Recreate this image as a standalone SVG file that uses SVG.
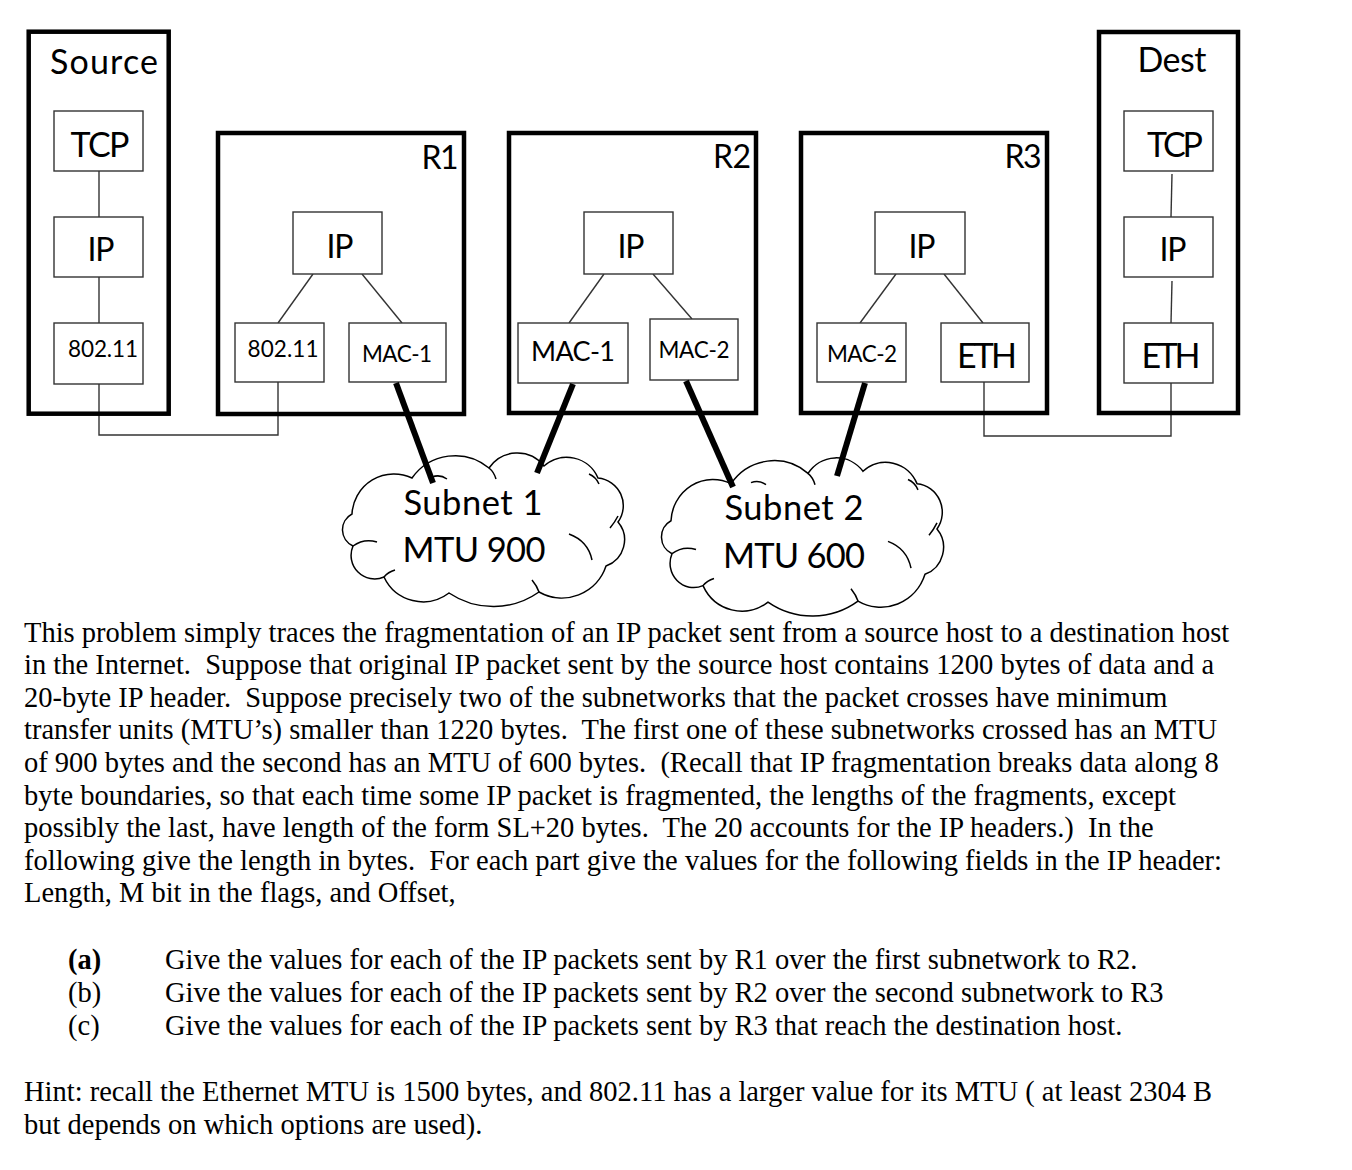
<svg xmlns="http://www.w3.org/2000/svg" width="1352" height="1170" viewBox="0 0 1352 1170">
<style>
.big{fill:none;stroke:#000;stroke-width:4.5}
.box{fill:#fff;stroke:#333;stroke-width:1.4}
.thin{fill:none;stroke:#333;stroke-width:1.4}
.thick{fill:none;stroke:#000;stroke-width:6}
.cloud{fill:#fff;stroke:#000;stroke-width:1.5;vector-effect:non-scaling-stroke}
.cin{fill:none;stroke:#000;stroke-width:1.5;vector-effect:non-scaling-stroke}
.lbl{font-family:Lato,"Liberation Sans",sans-serif;fill:#000;text-anchor:middle}
.p{font-family:"Liberation Serif","Times New Roman",serif;font-size:28.5px;fill:#000;white-space:pre}
</style>
<defs>
<g id="cloudShape">
<path class="cloud" d="M 9,90 A 17.8 17.8 0 0 1 8,58 A 42 42 0 0 1 68,22 A 52.8 52.8 0 0 1 145,12 A 34 34 0 0 1 200,10 A 34 34 0 0 1 254,22 A 27.8 27.8 0 0 1 274,66 A 27.7 27.7 0 0 1 262,110 A 46.5 46.5 0 0 1 195,136 A 79.3 79.3 0 0 1 105,137 A 43 43 0 0 1 40,121 A 23.6 23.6 0 0 1 9,90 Z"/>
<path class="cin" d="M 9,90 Q 20,82 33,86"/>
<path class="cin" d="M 88,21 Q 96,18 103,23"/>
<path class="cin" d="M 145,12 Q 150,16 152,23"/>
<path class="cin" d="M 245,18 Q 252,21 255,28"/>
<path class="cin" d="M 266,72 Q 271,66 274,60"/>
<path class="cin" d="M 225,78 Q 244,85 248,104"/>
<path class="cin" d="M 40,121 Q 44,116 51,114"/>
<path class="cin" d="M 188,124 Q 193,130 195,136"/>
</g>
</defs>
<rect width="1352" height="1170" fill="#fff"/>

<g id="connectors">
<line class="thin" x1="99" y1="171" x2="99" y2="217"/>
<line class="thin" x1="99" y1="277" x2="99" y2="323"/>
<polyline class="thin" points="99,384 99,435 278,435 278,382"/>
<line class="thin" x1="313" y1="274" x2="278" y2="323"/>
<line class="thin" x1="362" y1="274" x2="402" y2="323"/>
<line class="thin" x1="604" y1="274" x2="569" y2="323"/>
<line class="thin" x1="653" y1="274" x2="692" y2="319"/>
<line class="thin" x1="896" y1="274" x2="860" y2="323"/>
<line class="thin" x1="944" y1="274" x2="983" y2="323"/>
<line class="thin" x1="1172" y1="174" x2="1171" y2="217"/>
<line class="thin" x1="1172" y1="281" x2="1171" y2="323"/>
<polyline class="thin" points="984,382 984,436 1171,436 1171,383"/>
</g>

<g id="source">
<rect class="big" x="28.7" y="31.7" width="140" height="382"/>
<text class="lbl" x="104" y="74" font-size="34" textLength="108">Source</text>
</g>
<g id="source-tcp"><rect class="box" x="54" y="111" width="89" height="60"/><text class="lbl" x="100" y="157" font-size="34" textLength="59">TCP</text></g>
<g id="source-ip"><rect class="box" x="54" y="217" width="89" height="60"/><text class="lbl" x="101" y="261" font-size="32" textLength="27">IP</text></g>
<g id="source-80211"><rect class="box" x="54" y="323" width="89" height="61"/><text class="lbl" x="103" y="357" font-size="22.5" textLength="70">802.11</text></g>

<g id="r1">
<rect class="big" x="218" y="133" width="246" height="281"/>
<text class="lbl" x="440" y="169" font-size="32" textLength="37">R1</text>
</g>
<g id="r1-ip"><rect class="box" x="293" y="212" width="89" height="62"/><text class="lbl" x="340" y="258" font-size="32" textLength="27">IP</text></g>
<g id="r1-80211"><rect class="box" x="235" y="323" width="89" height="59"/><text class="lbl" x="283" y="357" font-size="22.5" textLength="71">802.11</text></g>
<g id="r1-mac1"><rect class="box" x="349" y="323" width="97" height="59"/><text class="lbl" x="397" y="362" font-size="22.5" textLength="70">MAC-1</text></g>

<g id="r2">
<rect class="big" x="509" y="133" width="247" height="280"/>
<text class="lbl" x="732" y="168" font-size="32" textLength="38">R2</text>
</g>
<g id="r2-ip"><rect class="box" x="584" y="212" width="89" height="62"/><text class="lbl" x="631" y="258" font-size="32" textLength="27">IP</text></g>
<g id="r2-mac1"><rect class="box" x="518" y="323" width="110" height="60"/><text class="lbl" x="573" y="361" font-size="27" textLength="84">MAC-1</text></g>
<g id="r2-mac2"><rect class="box" x="650" y="319" width="88" height="61"/><text class="lbl" x="694" y="358" font-size="22.5" textLength="71">MAC-2</text></g>

<g id="r3">
<rect class="big" x="801" y="133" width="246" height="280"/>
<text class="lbl" x="1023" y="168" font-size="32" textLength="37">R3</text>
</g>
<g id="r3-ip"><rect class="box" x="875" y="212" width="90" height="62"/><text class="lbl" x="922" y="258" font-size="32" textLength="27">IP</text></g>
<g id="r3-mac2"><rect class="box" x="817" y="323" width="89" height="59"/><text class="lbl" x="862" y="362" font-size="22.5" textLength="70">MAC-2</text></g>
<g id="r3-eth"><rect class="box" x="941" y="323" width="88" height="59"/><text class="lbl" x="987" y="368" font-size="34" textLength="60">ETH</text></g>

<g id="dest">
<rect class="big" x="1099" y="32" width="139" height="381"/>
<text class="lbl" x="1172" y="72" font-size="34" textLength="69">Dest</text>
</g>
<g id="dest-tcp"><rect class="box" x="1124" y="111" width="89" height="60"/><text class="lbl" x="1175" y="157" font-size="34" textLength="56">TCP</text></g>
<g id="dest-ip"><rect class="box" x="1124" y="217" width="89" height="60"/><text class="lbl" x="1173" y="261" font-size="32" textLength="27">IP</text></g>
<g id="dest-eth"><rect class="box" x="1124" y="323" width="89" height="60"/><text class="lbl" x="1171" y="368" font-size="34" textLength="59">ETH</text></g>

<g id="subnet1">
<use href="#cloudShape" transform="translate(344,456)"/>
<text class="lbl" x="473" y="515" font-size="34.5" textLength="139">Subnet 1</text>
<text class="lbl" x="474" y="562" font-size="34.5" textLength="143">MTU 900</text>
</g>
<g id="subnet2">
<use href="#cloudShape" transform="translate(663,461) scale(1,1.03)"/>
<text class="lbl" x="794" y="520" font-size="34.5" textLength="139">Subnet 2</text>
<text class="lbl" x="794" y="568" font-size="34.5" textLength="142">MTU 600</text>
</g>

<g id="links">
<line class="thick" x1="396" y1="383" x2="433" y2="483"/>
<line class="thick" x1="573" y1="384" x2="537" y2="473"/>
<line class="thick" x1="686" y1="381" x2="733" y2="487"/>
<line class="thick" x1="865" y1="383" x2="837" y2="476"/>
</g>

<g id="text">
<text class="p" x="24" y="642">This problem simply traces the fragmentation of an IP packet sent from a source host to a destination host</text>
<text class="p" x="24" y="674">in the Internet.  Suppose that original IP packet sent by the source host contains 1200 bytes of data and a</text>
<text class="p" x="24" y="707">20-byte IP header.  Suppose precisely two of the subnetworks that the packet crosses have minimum</text>
<text class="p" x="24" y="739">transfer units (MTU’s) smaller than 1220 bytes.  The first one of these subnetworks crossed has an MTU</text>
<text class="p" x="24" y="772">of 900 bytes and the second has an MTU of 600 bytes.  (Recall that IP fragmentation breaks data along 8</text>
<text class="p" x="24" y="805">byte boundaries, so that each time some IP packet is fragmented, the lengths of the fragments, except</text>
<text class="p" x="24" y="837">possibly the last, have length of the form SL+20 bytes.  The 20 accounts for the IP headers.)  In the</text>
<text class="p" x="24" y="870">following give the length in bytes.  For each part give the values for the following fields in the IP header:</text>
<text class="p" x="24" y="902">Length, M bit in the flags, and Offset,</text>
<text class="p" x="68" y="969" font-weight="bold">(a)</text>
<text class="p" x="165" y="969">Give the values for each of the IP packets sent by R1 over the first subnetwork to R2.</text>
<text class="p" x="68" y="1002">(b)</text>
<text class="p" x="165" y="1002">Give the values for each of the IP packets sent by R2 over the second subnetwork to R3</text>
<text class="p" x="68" y="1035">(c)</text>
<text class="p" x="165" y="1035">Give the values for each of the IP packets sent by R3 that reach the destination host.</text>
<text class="p" x="24" y="1101">Hint: recall the Ethernet MTU is 1500 bytes, and 802.11 has a larger value for its MTU ( at least 2304 B</text>
<text class="p" x="24" y="1134">but depends on which options are used).</text>
</g>
</svg>
